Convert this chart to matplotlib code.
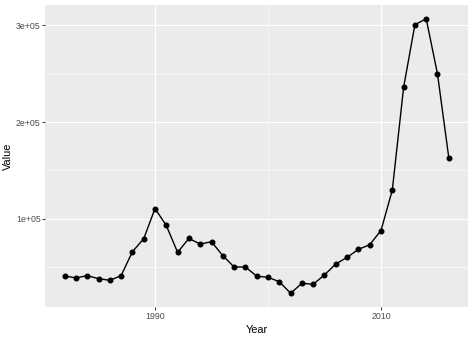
import matplotlib
matplotlib.use("Agg")
import matplotlib.pyplot as plt
from matplotlib.ticker import FixedLocator

years = list(range(1982, 2017))
values = [40900, 38900, 41200, 38100, 36400, 41200, 66000, 79400, 110600,
          93100, 65300, 79700, 73900, 76300, 61900, 50200, 50200, 40700,
          39500, 35000, 23000, 33300, 32300, 42000, 53300, 60100, 68400,
          73200, 87900, 129600, 235800, 300700, 306900, 249800, 163200]
x_ticks = [1990, 2010]
x_tick_labels = ["1990", "2010"]
x_minor = [1980, 2000, 2020]
y_ticks = [100000, 200000, 300000]
y_tick_labels = ["1e+05", "2e+05", "3e+05"]
y_minor = [50000, 150000, 250000]

plt.rcParams['font.family'] = ['Liberation Sans', 'DejaVu Sans']

W, H = 474, 338
fig = plt.figure(figsize=(W / 100, H / 100), dpi=100)
left, right, top, bottom = 45.4, 468, 5, 307
ax = fig.add_axes([left / W, 1 - bottom / H, (right - left) / W, (bottom - top) / H])
ax.set_facecolor('#EBEBEB')
for s in ax.spines.values():
    s.set_visible(False)

# ggplot-like expansion
xmin, xmax = min(years), max(years)
xr = xmax - xmin
ax.set_xlim(xmin - 0.05 * xr, xmax + 0.05 * xr)
ymin, ymax = min(values), max(values)
yr = ymax - ymin
ax.set_ylim(ymin - 0.05 * yr, ymax + 0.05 * yr)

ax.set_xticks(x_ticks)
ax.set_xticklabels(x_tick_labels)
ax.xaxis.set_minor_locator(FixedLocator(x_minor))
ax.set_yticks(y_ticks)
ax.set_yticklabels(y_tick_labels)
ax.yaxis.set_minor_locator(FixedLocator(y_minor))
ax.grid(which='major', color='white', linewidth=0.8)
ax.grid(which='minor', color='white', linewidth=0.4)
ax.set_axisbelow(True)
ax.tick_params(which='major', length=2.0, width=0.7, color='#333333',
               labelsize=6.3, labelcolor='#4D4D4D', pad=1.5)
ax.tick_params(which='minor', length=0)

ax.plot(years, values, color='black', linewidth=1.0, marker='o',
        markersize=3.3, zorder=3)

ax.set_xlabel('Year', fontsize=7.9, color='black', labelpad=3)
ax.set_ylabel('Value', fontsize=7.9, color='black', labelpad=2)

fig.savefig('out.png', dpi=100, facecolor='white')
